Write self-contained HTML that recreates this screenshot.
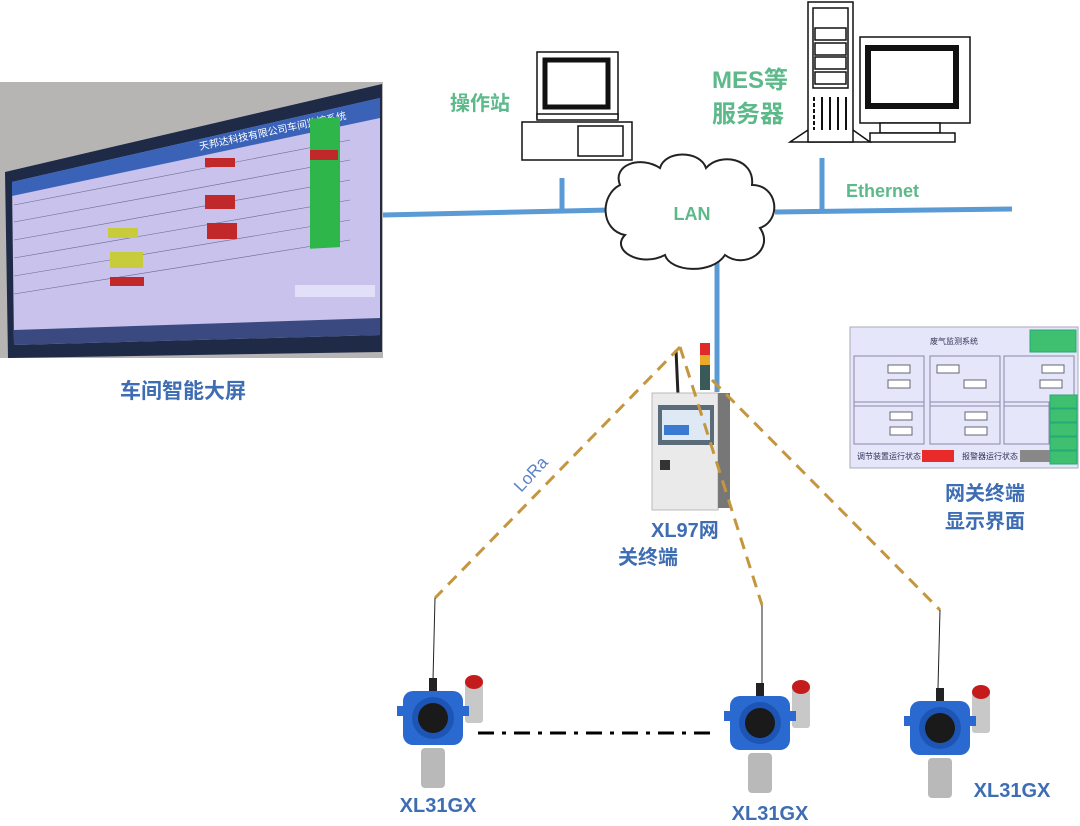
<!DOCTYPE html>
<html><head><meta charset="utf-8"><style>
body{margin:0;background:#fff;}
svg{display:block;font-family:"Liberation Sans","Noto Sans CJK SC",sans-serif;}
.g{fill:#5cb98a;font-weight:bold;}
.b{fill:#3e6db3;font-weight:bold;}
</style></head><body>
<svg width="1080" height="826" viewBox="0 0 1080 826" xmlns="http://www.w3.org/2000/svg">
<defs>
<g id="d">
<rect x="-4" y="-40" width="8" height="14" fill="#222"/>
<rect x="32" y="-37" width="18" height="42" fill="#c8c8c8" rx="3"/>
<ellipse cx="41" cy="-36" rx="9" ry="7" fill="#c41c1c"/>
<rect x="-12" y="30" width="24" height="40" fill="#b9b9b9" rx="4"/>
<rect x="-30" y="-27" width="60" height="54" rx="10" fill="#2a6ad0"/>
<rect x="-36" y="-12" width="8" height="10" fill="#2a6ad0"/>
<rect x="28" y="-12" width="8" height="10" fill="#2a6ad0"/>
<circle cx="0" cy="0" r="21" fill="#1d55b5"/>
<circle cx="0" cy="0" r="15" fill="#1a1a1a"/>
</g>
</defs>
<!-- big screen photo -->
<rect x="0" y="82" width="383" height="276" fill="#b7b4b4"/>
<polygon points="5,172 382,84 382,352 8,358" fill="#1f2a46"/>
<polygon points="12,182 380,98 380,335 14,345" fill="#c9c2ec"/>
<polygon points="12,182 380,98 380,118 12,196" fill="#3a63b8"/>
<polygon points="14,330 380,318 380,335 14,345" fill="#3a4a80"/>
<text x="200" y="150" font-size="10" fill="#fff" transform="rotate(-12 200 150)">天邦达科技有限公司车间监控系统</text>
<g stroke="#6a6a8a" stroke-width="0.6">
<line x1="14" y1="205" x2="350" y2="140"/><line x1="14" y1="222" x2="350" y2="160"/><line x1="14" y1="240" x2="350" y2="180"/><line x1="14" y1="258" x2="350" y2="200"/><line x1="14" y1="276" x2="350" y2="220"/><line x1="14" y1="294" x2="350" y2="240"/>
</g>
<rect x="310" y="135" width="30" height="130" fill="#2fb64a" transform="skewY(-3)"/>
<rect x="310" y="150" width="28" height="10" fill="#c0282a"/>
<rect x="205" y="158" width="30" height="9" fill="#c0282a"/>
<rect x="205" y="195" width="30" height="14" fill="#c0282a"/>
<rect x="207" y="223" width="30" height="16" fill="#c0282a"/>
<rect x="108" y="228" width="30" height="10" fill="#c8cc3a"/>
<rect x="110" y="252" width="33" height="16" fill="#c8cc3a"/>
<rect x="110" y="277" width="34" height="9" fill="#c0282a"/>
<rect x="295" y="285" width="80" height="12" fill="#e8e6fb" opacity="0.8"/>
<text x="183" y="398" font-size="21" class="b" text-anchor="middle">车间智能大屏</text>

<!-- ethernet -->
<g stroke="#5b9bd5" stroke-width="5" fill="none">
<line x1="383" y1="215" x2="610" y2="210"/>
<line x1="775" y1="212" x2="1012" y2="209"/>
<line x1="562" y1="178" x2="562" y2="212"/>
<line x1="822" y1="158" x2="822" y2="212"/>
<line x1="717" y1="262" x2="717" y2="392"/>
</g>
<!-- cloud -->
<path d="M620,185 C612,165 640,155 660,168 C665,150 700,150 706,168 C720,152 755,158 752,185 C778,185 782,220 760,228 C775,250 745,270 725,255 C712,275 670,272 665,255 C640,268 610,250 625,235 C600,230 600,195 620,185 Z" fill="#fff" stroke="#222" stroke-width="2"/>
<text x="692" y="220" font-size="18" class="g" text-anchor="middle">LAN</text>
<text x="846" y="197" font-size="18" class="g">Ethernet</text>

<!-- PC -->
<g fill="#fff" stroke="#111" stroke-width="1.5">
<rect x="537" y="52" width="81" height="66"/>
<rect x="545" y="60" width="63" height="47" stroke-width="5"/>
<rect x="537" y="114" width="81" height="6"/>
<rect x="522" y="122" width="110" height="38"/>
<rect x="578" y="126" width="45" height="30"/>
</g>
<text x="450" y="110" font-size="20" class="g">操作站</text>
<!-- server -->
<g fill="#fff" stroke="#111" stroke-width="1.5">
<polygon points="790,142 808,130 853,130 870,142"/>
<rect x="808" y="2" width="45" height="140"/>
<rect x="813" y="8" width="35" height="80"/>
<rect x="815" y="28" width="31" height="12"/><rect x="815" y="43" width="31" height="12"/><rect x="815" y="57" width="31" height="12"/><rect x="815" y="72" width="31" height="12"/>
<rect x="860" y="37" width="110" height="86"/>
<rect x="868" y="48" width="88" height="58" stroke-width="6"/>
<rect x="880" y="123" width="60" height="10"/>
<rect x="870" y="133" width="85" height="9"/>
</g>
<g stroke="#111" stroke-width="2"><line x1="814" y1="97" x2="814" y2="130" stroke-dasharray="4 2"/><line x1="822" y1="97" x2="822" y2="130"/><line x1="830" y1="97" x2="830" y2="130"/><line x1="838" y1="97" x2="838" y2="130"/><line x1="846" y1="97" x2="846" y2="130"/></g>
<text x="712" y="88" font-size="24" class="g">MES等</text>
<text x="712" y="122" font-size="24" class="g">服务器</text>

<!-- gateway -->
<line x1="676" y1="350" x2="678" y2="395" stroke="#222" stroke-width="3"/>
<rect x="700" y="343" width="10" height="12" fill="#e02a2a"/>
<rect x="700" y="355" width="10" height="10" fill="#e9a92a"/>
<rect x="700" y="365" width="10" height="25" fill="#3a5a5a"/>
<rect x="652" y="393" width="66" height="117" fill="#eaeaea" stroke="#bbb"/>
<rect x="718" y="393" width="12" height="115" fill="#777"/>
<rect x="658" y="405" width="56" height="40" fill="#5a6b7a"/>
<rect x="662" y="410" width="48" height="30" fill="#dfe8f5"/>
<rect x="664" y="425" width="25" height="10" fill="#3a7ad0"/>
<rect x="660" y="460" width="10" height="10" fill="#333"/>
<text x="651" y="537" font-size="20" class="b">XL97网</text>
<text x="618" y="564" font-size="20" class="b">关终端</text>

<!-- HMI -->
<rect x="850" y="327" width="228" height="141" fill="#e6e6fb" stroke="#aab"/>
<rect x="1030" y="330" width="46" height="22" fill="#3ec070" stroke="#2a7"/>
<text x="930" y="344" font-size="8" fill="#335">废气监测系统</text>
<g fill="none" stroke="#88a"><rect x="854" y="356" width="70" height="50"/><rect x="930" y="356" width="70" height="50"/><rect x="1004" y="356" width="70" height="50"/><rect x="854" y="402" width="70" height="42"/><rect x="930" y="402" width="70" height="42"/><rect x="1004" y="402" width="45" height="42"/></g>
<g fill="#fff" stroke="#667"><rect x="888" y="365" width="22" height="8"/><rect x="937" y="365" width="22" height="8"/><rect x="1042" y="365" width="22" height="8"/><rect x="888" y="380" width="22" height="8"/><rect x="964" y="380" width="22" height="8"/><rect x="1040" y="380" width="22" height="8"/><rect x="890" y="412" width="22" height="8"/><rect x="965" y="412" width="22" height="8"/><rect x="890" y="427" width="22" height="8"/><rect x="965" y="427" width="22" height="8"/></g>
<g fill="#3ec070" stroke="#2a7"><rect x="1050" y="395" width="27" height="13"/><rect x="1050" y="409" width="27" height="13"/><rect x="1050" y="423" width="27" height="13"/><rect x="1050" y="437" width="27" height="13"/><rect x="1050" y="451" width="27" height="13"/></g>
<rect x="922" y="450" width="32" height="12" fill="#e82a2a"/>
<rect x="1020" y="450" width="30" height="12" fill="#888"/>
<text x="857" y="459" font-size="8" fill="#335">调节装置运行状态</text>
<text x="962" y="459" font-size="8" fill="#335">报警器运行状态</text>
<text x="985" y="500" font-size="20" class="b" text-anchor="middle">网关终端</text>
<text x="985" y="528" font-size="20" class="b" text-anchor="middle">显示界面</text>

<!-- LoRa dashed -->
<g stroke="#c4963e" stroke-width="3" stroke-dasharray="12 8" fill="none">
<line x1="680" y1="347" x2="435" y2="598"/>
<line x1="680" y1="347" x2="762" y2="605"/>
<line x1="712" y1="380" x2="940" y2="610"/>
</g>
<text x="535" y="478" font-size="17" fill="#5b80c4" transform="rotate(-47 535 478)" text-anchor="middle">LoRa</text>

<!-- detectors -->
<g stroke="#222" stroke-width="1"><line x1="435" y1="598" x2="433" y2="680"/><line x1="762" y1="605" x2="762" y2="688"/><line x1="940" y1="610" x2="938" y2="688"/></g>
<line x1="478" y1="733" x2="712" y2="733" stroke="#000" stroke-width="3" stroke-dasharray="16 8 4 8"/>
<use href="#d" transform="translate(433,718)"/>
<use href="#d" transform="translate(760,723)"/>
<use href="#d" transform="translate(940,728)"/>
<text x="438" y="812" font-size="20" class="b" text-anchor="middle">XL31GX</text>
<text x="770" y="820" font-size="20" class="b" text-anchor="middle">XL31GX</text>
<text x="1012" y="797" font-size="20" class="b" text-anchor="middle">XL31GX</text>
</svg>
</body></html>
